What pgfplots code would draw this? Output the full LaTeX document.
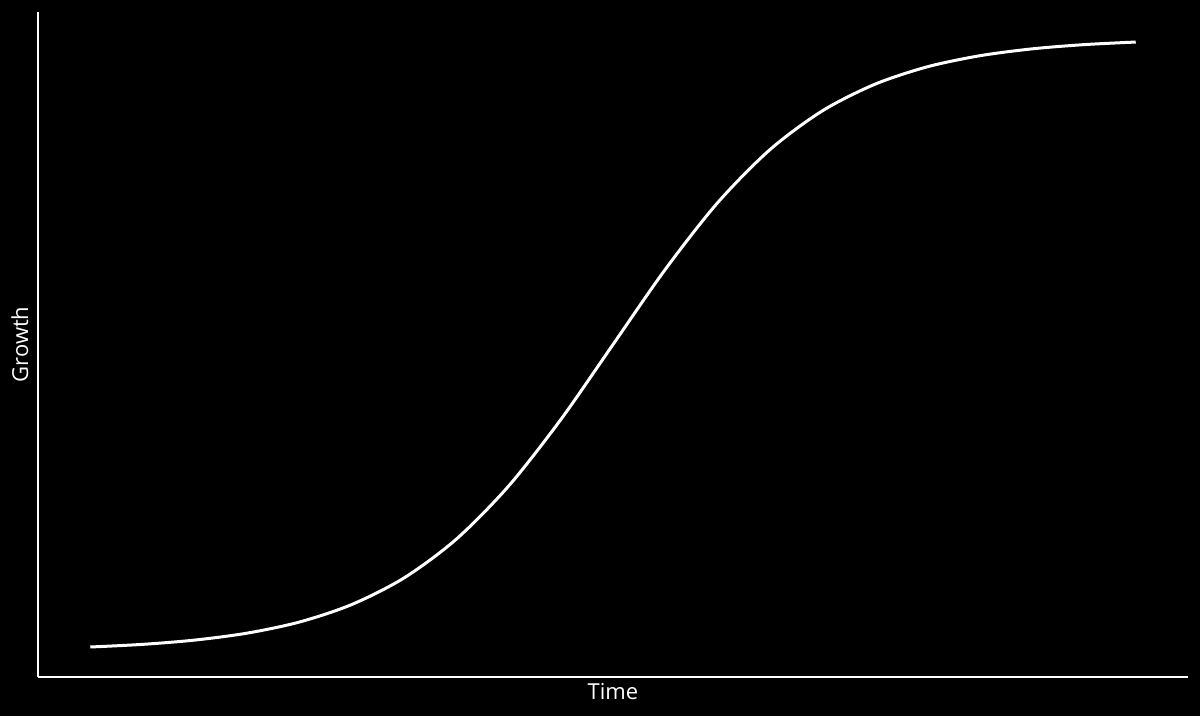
\documentclass[border=0pt]{standalone}
\usepackage{pgfplots}
\pgfplotsset{compat=1.18}
\usepackage{fontspec}
\setmainfont{Open Sans}
\begin{document}
\begin{tikzpicture}
\fill[black] (0,0) rectangle (600pt,358pt);
\begin{axis}[
    at={(19pt,19.5pt)},
    anchor=south west,
    scale only axis,
    width=575pt,
    height=332.5pt,
    xmin=-0.5, xmax=10.5,
    ymin=-0.0422, ymax=1.0423,
    axis x line*=bottom,
    axis y line*=left,
    axis line style={white, line width=0.6pt},
    xtick=\empty,
    ytick=\empty,
    xlabel={Time},
    ylabel={Growth},
    label style={white, font=\fontsize{11}{13}\selectfont},
    xlabel style={at={(axis description cs:0.5,-0.0226)}, anchor=center},
    ylabel style={at={(axis description cs:-0.0157,0.5)}, anchor=center},
    clip=false,
]
\addplot[white, line width=1.5pt, smooth] coordinates {
    (0,0.0067) (0.5,0.0110) (1,0.0180) (1.5,0.0293) (2,0.0474)
    (2.5,0.0759) (3,0.1192) (3.5,0.1824) (4,0.2689) (4.5,0.3775)
    (5,0.5000) (5.5,0.6225) (6,0.7311) (6.5,0.8176) (7,0.8808)
    (7.5,0.9241) (8,0.9526) (8.5,0.9707) (9,0.9820) (9.5,0.9890)
    (10,0.9933)
};
\end{axis}
\end{tikzpicture}
\end{document}
